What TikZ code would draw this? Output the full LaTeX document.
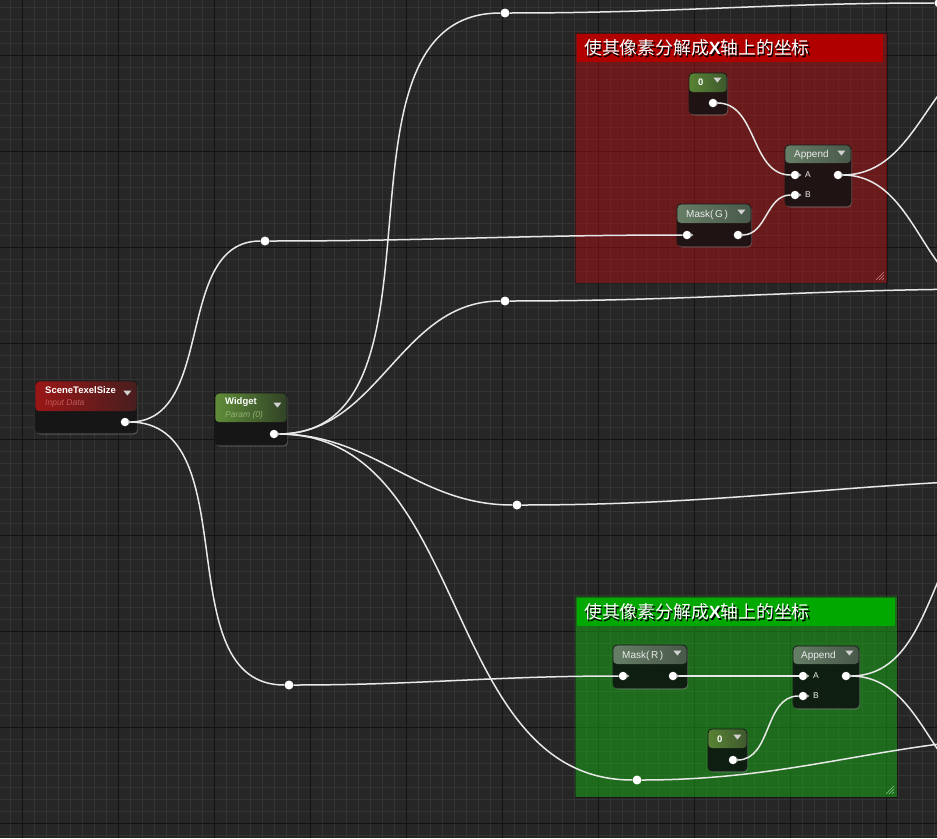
\documentclass[tikz,border=0pt]{standalone}
\usepackage{fontspec}
\setmainfont{Liberation Sans}
\newfontfamily\cjk{Noto Sans CJK SC}
\usetikzlibrary{shadows}
\definecolor{bg}{RGB}{38,38,38}
\definecolor{gridfine}{RGB}{52,52,52}
\definecolor{gridbold}{RGB}{18,18,18}
\definecolor{wirec}{RGB}{232,232,232}
\definecolor{redbar}{RGB}{176,0,0}
\definecolor{redbody}{RGB}{176,17,17}
\definecolor{greenbar}{RGB}{0,168,0}
\definecolor{greenbody}{RGB}{24,176,24}
\definecolor{inred}{RGB}{155,22,22}
\definecolor{inredr}{RGB}{72,30,30}
\definecolor{parg}{RGB}{96,140,56}
\definecolor{pargr}{RGB}{48,66,38}
\definecolor{constg}{RGB}{88,132,52}
\definecolor{constgr}{RGB}{62,88,46}
\definecolor{mathg}{RGB}{102,126,102}
\definecolor{mathgr}{RGB}{72,88,74}
\definecolor{subred}{RGB}{195,90,90}
\definecolor{subgreen}{RGB}{145,180,115}
\definecolor{bodyd}{RGB}{22,22,22}
\definecolor{bodyr}{RGB}{32,19,19}
\definecolor{bodyg}{RGB}{14,30,16}
\begin{document}
\begin{tikzpicture}[x=1pt, y=1pt,
  gfine/.style={draw=gridfine, line width=1pt},
  gbold/.style={draw=gridbold, line width=1pt},
  uenode/.style n args={4}{draw=black!90, line width=0.8pt, rounded corners=4pt, fill=#3, inner sep=0pt,
    drop shadow={shadow xshift=1pt, shadow yshift=-1.5pt, opacity=0.5},
    path picture={\shade[left color=#1, right color=#2] (path picture bounding box.north west) rectangle ([yshift=-#4pt]path picture bounding box.north east);}},
  ntitle/.style={anchor=west, inner sep=0pt, text=white, font=\bfseries\fontsize{9.5}{10}\selectfont},
  nsub/.style={anchor=west, inner sep=0pt, font=\itshape\fontsize{8.5}{10}\selectfont},
  mtitle/.style={anchor=west, inner sep=0pt, text=white!92!black, font=\fontsize{10}{10}\selectfont},
  plabel/.style={anchor=west, inner sep=0pt, text=white!92!black, font=\fontsize{8.5}{9}\selectfont},
  ctitle/.style={anchor=west, inner sep=0pt, text=white, font=\cjk\fontsize{17.8}{18}\selectfont},
  pinc/.style={circle, fill=white, inner sep=0pt, minimum size=8.5pt},
  reroute/.style={circle, fill=white, inner sep=0pt, minimum size=9pt},
  nubc/.style={fill=white!75!black},
  ddc/.style={fill=white!82!black},
  wire/.style={draw=wirec, line width=1.5pt},
  gripc/.style={line width=0.6pt}
]
\useasboundingbox (0,0) rectangle (937,-838);
\clip (0,0) rectangle (937,-838);
\fill[bg] (0,0) rectangle (937,-838);
% grid
\foreach \gx in {10,22,...,934} \draw[gfine] (\gx,0) -- (\gx,-838);
\foreach \gy in {7,19,...,835} \draw[gfine] (0,-\gy) -- (937,-\gy);
\foreach \gx in {22,118,...,886} \draw[gbold] (\gx,0) -- (\gx,-838);
\foreach \gy in {55,151,...,823} \draw[gbold] (0,-\gy) -- (937,-\gy);

% comment boxes
\fill[redbody, fill opacity=0.49] (575,-33) rectangle (887,-283);
\draw[black, opacity=0.35] (575,-33) rectangle (887,-283);
\fill[redbar] (577,-34) rectangle (883,-62);
\node[ctitle, text=black] (rc-s) at (585.5,-49.5) {使其像素分解成{\rmfamily\bfseries X}轴上的坐标};
\node[ctitle] (rc-t) at (584,-48) {使其像素分解成{\rmfamily\bfseries X}轴上的坐标};
\foreach \d in {0,3,6} \draw[gripc, draw={rgb,255:red,210;green,130;blue,130}] (876+\d,-280) -- (884,-272-\d);

\fill[greenbody, fill opacity=0.5] (575,-596) rectangle (897,-797);
\draw[black, opacity=0.35] (575,-596) rectangle (897,-797);
\fill[greenbar] (577,-598) rectangle (895,-626);
\node[ctitle, text=black] (gc-s) at (585.5,-613.5) {使其像素分解成{\rmfamily\bfseries X}轴上的坐标};
\node[ctitle] (gc-t) at (584,-612) {使其像素分解成{\rmfamily\bfseries X}轴上的坐标};
\foreach \d in {0,3,6} \draw[gripc, draw={rgb,255:red,130;green,200;blue,130}] (886+\d,-794) -- (894,-786-\d);

% graph nodes
\node[uenode={inred}{inredr}{bodyd}{30}, minimum width=102pt, minimum height=52pt] (ste) at (86,-407) {};
\node[uenode={parg}{pargr}{bodyd}{29}, minimum width=72pt, minimum height=52pt] (wdg) at (251,-419) {};
\node[uenode={constg}{constgr}{bodyr}{19}, minimum width=38pt, minimum height=41pt] (c0) at (708,-93.5) {};
\node[uenode={mathg}{mathgr}{bodyr}{18}, minimum width=66pt, minimum height=61pt] (apr) at (818,-175.5) {};
\node[uenode={mathg}{mathgr}{bodyr}{19}, minimum width=74pt, minimum height=42pt] (mg) at (714,-225) {};
\node[uenode={mathg}{mathgr}{bodyg}{19}, minimum width=74pt, minimum height=43pt] (mr) at (650,-666.5) {};
\node[uenode={mathg}{mathgr}{bodyg}{18}, minimum width=66pt, minimum height=62pt] (apg) at (826,-677) {};
\node[uenode={constg}{constgr}{bodyg}{19}, minimum width=39pt, minimum height=42pt] (c1) at (727.5,-750) {};

% titles
\node[ntitle] (ste-t) at (45,-390) {SceneTexelSize};
\node[nsub, text=subred] (ste-s) at (45,-403.5) {Input Data};
\node[ntitle] (wdg-t) at (225,-402) {Widget};
\node[nsub, text=subgreen] (wdg-s) at (225,-415.5) {Param (0)};
\node[ntitle] (c0-t) at (698,-82.5) {0};
\node[mtitle] (apr-t) at (794,-155) {Append};
\node[mtitle] (mg-t) at (686,-214.5) {Mask(\,G\,)};
\node[mtitle] (mr-t) at (622,-656) {Mask(\,R\,)};
\node[mtitle] (apg-t) at (801,-656) {Append};
\node[ntitle] (c1-t) at (717,-739.5) {0};
\node[plabel] (apr-la) at (805,-175) {A};
\node[plabel] (apr-lb) at (805,-195) {B};
\node[plabel] (apg-la) at (813,-676) {A};
\node[plabel] (apg-lb) at (813,-696) {B};
\foreach \n/\dy in {ste/10,wdg/10,c0/5,apr/6,mg/6,mr/6,apg/5,c1/6}
  \fill[ddc] ([shift={(-14,-\dy)}]\n.north east) -- ++(8,0) -- ++(-4,-5) -- cycle;

% pins and reroute knots
\foreach \p/\x/\y in {ste-o/125/422, wdg-o/274/434, c0-o/713/103, apr-a/795/175, apr-b/795/195, apr-o/838/175,
  mg-i/687/235, mg-o/738/235, mr-i/623/676, mr-o/673/676, apg-a/803/676, apg-b/803/696, apg-o/846/676, c1-o/733/760}
  \node[pinc] (\p) at (\x,-\y) {};
\foreach \k/\x/\y in {k1/505/13, k2/265/241, k3/505/301, k4/517/505, k5/289/685, k6/637/780, k7/939/3}
  \node[reroute] (\k) at (\x,-\y) {};
\coordinate (o1) at (1010,-50);
\coordinate (o2) at (1000,-300);
\coordinate (o3) at (1000,-289);
\coordinate (o4) at (1100,-478);
\coordinate (o5) at (1020,-500);
\coordinate (o6) at (1010,-800);
\coordinate (o7) at (1060,-736);

% wires
\foreach \u/\v in {ste-o/k2, k2/mg-i, ste-o/k5, k5/mr-i, wdg-o/k1, k1/k7, wdg-o/k3, k3/o3, wdg-o/k4, k4/o4,
  wdg-o/k6, k6/o7, c0-o/apr-a, mg-o/apr-b, apr-o/o1, apr-o/o2, mr-o/apg-a, c1-o/apg-b, apg-o/o5, apg-o/o6}
  \draw[wire] (\u) to[out=0,in=180] (\v);
\foreach \p in {ste-o, wdg-o, c0-o, apr-a, apr-b, apr-o, mg-i, mg-o, mr-i, mr-o, apg-a, apg-b, apg-o, c1-o}
  \fill[nubc] ([xshift=-1pt]\p.east) -- ++(0,2) -- ++(3,-2) -- ++(-3,-2) -- cycle;
\end{tikzpicture}
\end{document}
